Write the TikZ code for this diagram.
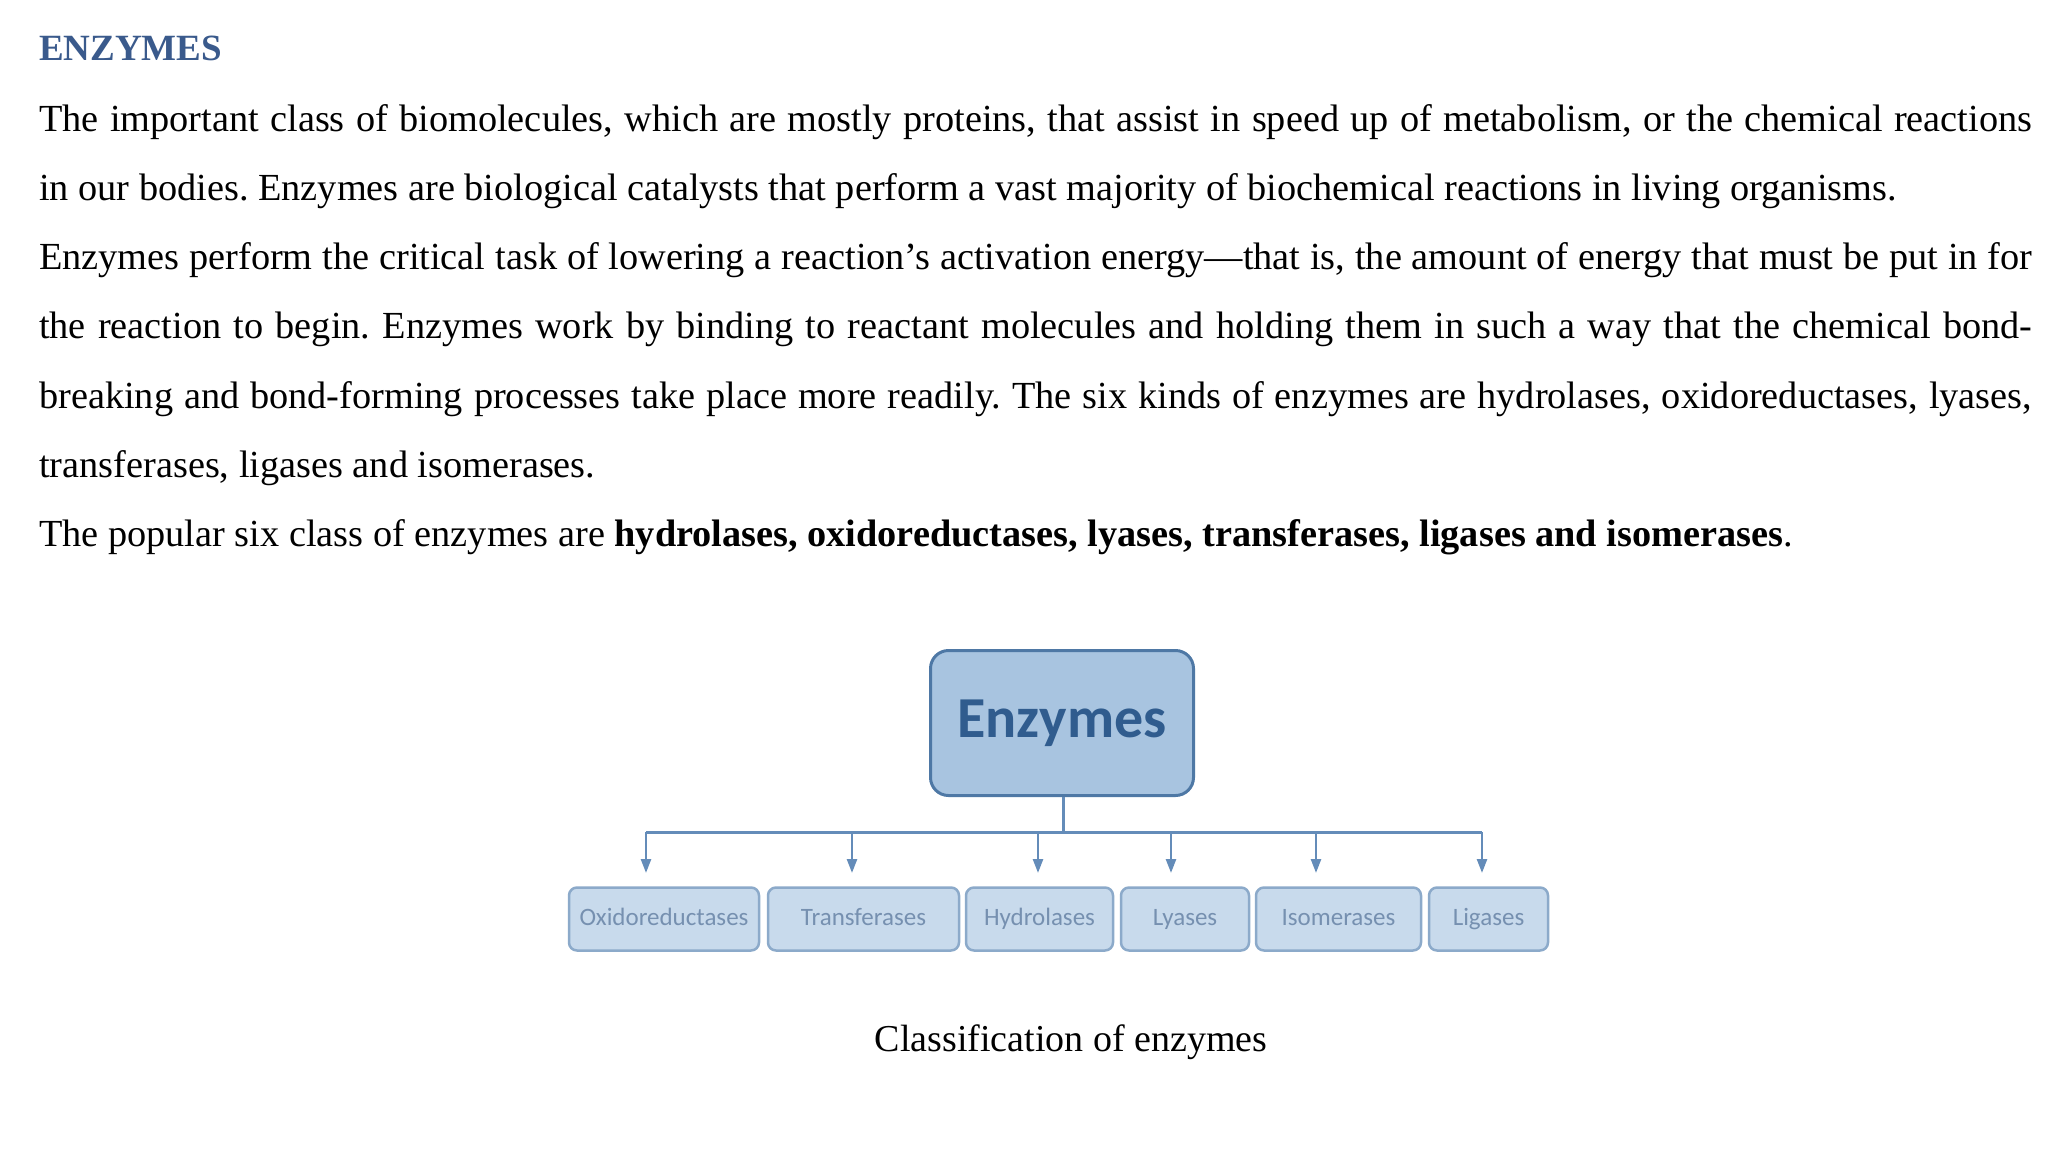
\documentclass[tikz,border=0pt]{standalone}
\usepackage{fontspec}
\setmainfont{Liberation Serif}
\newfontfamily\calib{Carlito}
\usetikzlibrary{arrows.meta,calc}
\definecolor{titleblue}{RGB}{58,90,140}
\definecolor{bigfill}{RGB}{168,196,224}
\definecolor{bigdraw}{RGB}{78,120,165}
\definecolor{bigtext}{RGB}{48,92,142}
\definecolor{smfill}{RGB}{200,218,236}
\definecolor{smdraw}{RGB}{140,170,202}
\definecolor{smtext}{RGB}{118,144,176}
\definecolor{linec}{RGB}{100,140,185}
\tikzset{
 txt/.style={anchor=base west,inner sep=0pt,font=\frenchspacing\fontsize{38.3}{42}\selectfont},
 bigbox/.style={draw=bigdraw,fill=bigfill,line width=3pt,rounded corners=18pt,minimum width=263pt,minimum height=145pt,font=\calib\bfseries\fontsize{58}{60}\selectfont,text=bigtext},
 smbox/.style={draw=smdraw,fill=smfill,line width=2.5pt,rounded corners=8pt,minimum height=63pt,inner sep=0pt,text height=18pt,text depth=6pt,font=\calib\fontsize{25}{26}\selectfont,text=smtext},
 conn/.style={draw=linec,line width=3pt},
 arr/.style={draw=linec,line width=2.5pt,-{Triangle[length=14pt,width=10pt]}}
}
\begin{document}
\begin{tikzpicture}[x=1pt,y=-1pt]
\useasboundingbox (0,0) rectangle (2048,1152);
\fill[white] (0,0) rectangle (2048,1152);
\node[anchor=base west,inner sep=0pt,font=\bfseries\fontsize{37}{40}\selectfont,text=titleblue] (title) at (39,60) {ENZYMES};
\def\W{1993pt}
\node[txt] (l1) at (39,131) {\hbox to \W{The important class of biomolecules, which are mostly proteins, that assist in speed up of metabolism, or the chemical reactions}};
\node[txt] (l2) at (39,200) {in our bodies. Enzymes are biological catalysts that perform a vast majority of biochemical reactions in living organisms.};
\node[txt] (l3) at (39,269) {\hbox to \W{Enzymes perform the critical task of lowering a reaction\char39s activation energy—that is, the amount of energy that must be put in for}};
\node[txt] (l4) at (39,338) {\hbox to \W{the reaction to begin. Enzymes work by binding to reactant molecules and holding them in such a way that the chemical bond-}};
\node[txt] (l5) at (39,408) {\hbox to \W{breaking and bond-forming processes take place more readily. The six kinds of enzymes are hydrolases, oxidoreductases, lyases,}};
\node[txt] (l6) at (39,477) {transferases, ligases and isomerases.};
\node[txt] (l7) at (39,546) {The popular six class of enzymes are \textbf{hydrolases, oxidoreductases, lyases, transferases, ligases and isomerases}.};

\node[bigbox] (enz) at (1062,723) {Enzymes};
\node[smbox,minimum width=190pt] (b1) at (664,919) {Oxidoreductases};
\node[smbox,minimum width=191pt] (b2) at (863.5,919) {Transferases};
\node[smbox,minimum width=147pt] (b3) at (1039.5,919) {Hydrolases};
\node[smbox,minimum width=128pt] (b4) at (1185,919) {Lyases};
\node[smbox,minimum width=165pt] (b5) at (1338.5,919) {Isomerases};
\node[smbox,minimum width=119pt] (b6) at (1488.5,919) {Ligases};

\coordinate (hub) at (1063,832);
\coordinate (bl) at (646,832);
\coordinate (br) at (1482,832);
\draw[conn] (enz.south -| hub) -- (hub);
\draw[conn] (bl) -- (br);
\foreach \b/\x in {b1/646,b2/852,b3/1038,b4/1171,b5/1316,b6/1482}{
  \draw[arr] (\x,832) -- (\x,873);
}
\node[anchor=base,inner sep=0pt,font=\fontsize{38}{40}\selectfont] (cap) at (1071,1051) {Classification of enzymes};
\end{tikzpicture}
\end{document}
